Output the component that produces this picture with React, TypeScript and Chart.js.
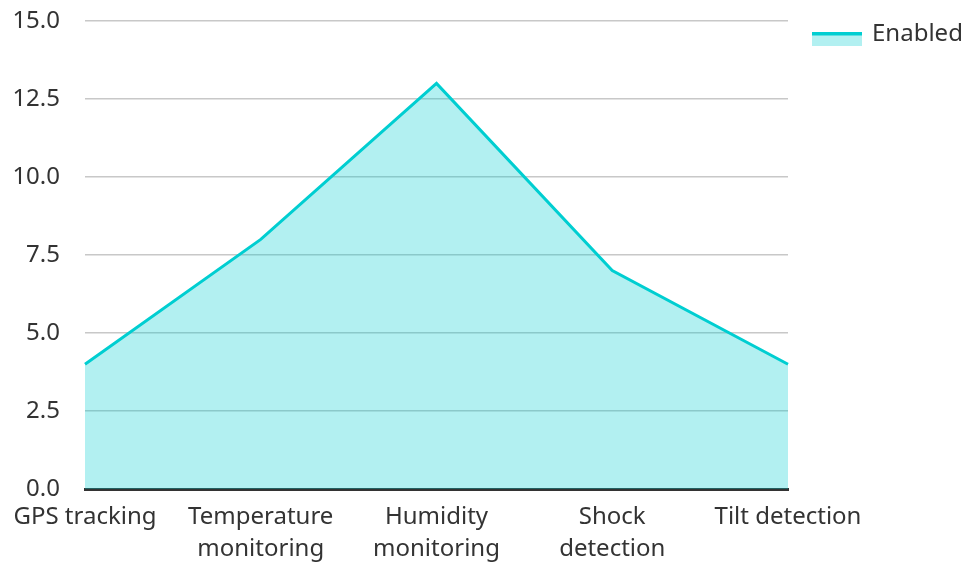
import React, { useEffect, useRef } from "react";
import { Chart, registerables } from "chart.js";

Chart.register(...registerables);

const categories: string[][] = [
  ["GPS tracking"],
  ["Temperature", "monitoring"],
  ["Humidity", "monitoring"],
  ["Shock", "detection"],
  ["Tilt detection"],
];
const enabledValues: number[] = [4, 8, 13, 7, 4];
const seriesName = "Enabled";
const yMin = 0;
const yMax = 15;
const yStep = 2.5;

const LINE = "#00CED1";
const FILL = "rgba(0,206,209,0.3)";
const TEXT = "#333333";
const FONT = "'Noto Sans', sans-serif";
const FS = 24;

export default function App() {
  const ref = useRef<HTMLCanvasElement | null>(null);

  useEffect(() => {
    document.body.style.margin = "0";
    document.body.style.overflow = "hidden";
    const canvas = ref.current;
    if (!canvas) return;

    const legendPlugin = {
      id: "customLegend",
      afterDraw(chart: any) {
        const ctx = chart.ctx as CanvasRenderingContext2D;
        ctx.save();
        const x = 812;
        const y = 32;
        const w = 50;
        const h = 14;
        ctx.fillStyle = FILL;
        ctx.fillRect(x, y, w, h);
        ctx.fillStyle = LINE;
        ctx.fillRect(x, y, w, 3.5);
        ctx.fillStyle = TEXT;
        ctx.font = `${FS}px ${FONT}`;
        ctx.textBaseline = "middle";
        ctx.textAlign = "left";
        ctx.fillText(seriesName, 872, 34);
        ctx.restore();
      },
    };

    const chart = new Chart(canvas, {
      type: "line",
      data: {
        labels: categories,
        datasets: [
          {
            label: seriesName,
            data: enabledValues,
            borderColor: LINE,
            backgroundColor: FILL,
            borderWidth: 3,
            fill: "origin",
            tension: 0,
            pointRadius: 0,
            pointHoverRadius: 0,
          },
        ],
      },
      options: {
        responsive: false,
        animation: false,
        layout: { padding: { left: 0, right: 180, top: 21, bottom: 0 } },
        plugins: {
          legend: { display: false },
          tooltip: { enabled: false },
        },
        scales: {
          x: {
            offset: false,
            grid: { display: false, drawTicks: false },
            border: { display: true, color: TEXT, width: 3 },
            ticks: {
              color: TEXT,
              font: { family: FONT, size: FS, lineHeight: 1.3 },
              padding: 13,
              maxRotation: 0,
              autoSkip: false,
            },
            afterFit(scale: any) {
              scale.height = 580 - 489;
            },
          },
          y: {
            min: yMin,
            max: yMax,
            grid: { color: "#c8c8c8", lineWidth: 1.5, drawTicks: false },
            border: { display: false },
            ticks: {
              stepSize: yStep,
              color: TEXT,
              font: { family: FONT, size: FS },
              padding: 25,
              callback: (v: any) => Number(v).toFixed(1),
            },
            afterFit(scale: any) {
              scale.width = 85;
              scale.paddingTop = 0;
              scale.paddingBottom = 0;
            },
          },
        },
      },
      plugins: [legendPlugin],
    });

    return () => chart.destroy();
  }, []);

  return (
    <div style={{ position: "absolute", left: 0, top: 0, width: 968, height: 580 }}>
      <canvas ref={ref} width={968} height={580} />
    </div>
  );
}
